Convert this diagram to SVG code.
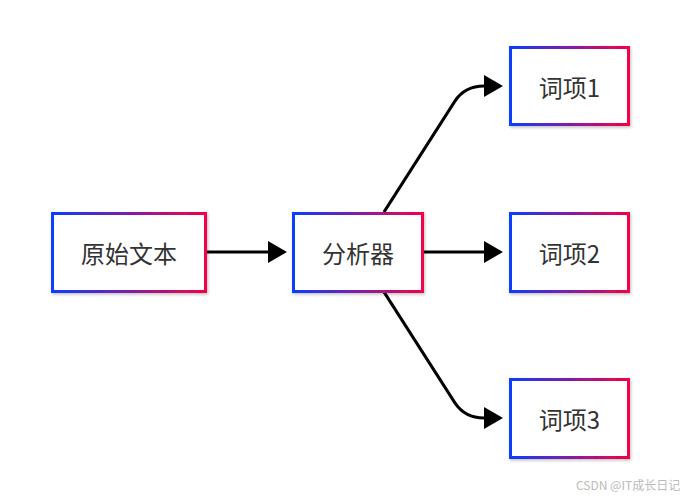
<svg xmlns="http://www.w3.org/2000/svg" width="688" height="500" viewBox="0 0 688 500">
<defs>
<linearGradient id="g" x1="0" y1="0" x2="1" y2="0">
<stop offset="0" stop-color="#0a3cff"/>
<stop offset="1" stop-color="#f5004a"/>
</linearGradient>
<filter id="sh" x="-10%" y="-10%" width="130%" height="130%">
<feDropShadow dx="1" dy="1.5" stdDeviation="1.5" flood-color="#000" flood-opacity="0.25"/>
</filter>
<marker id="arr" markerUnits="userSpaceOnUse" markerWidth="20" markerHeight="24" refX="0" refY="11" orient="auto" viewBox="0 0 20 24">
<path d="M0,0 L19,11 L0,22 z" fill="#000"/>
</marker>
<style>
.box{fill:#fff;stroke:url(#g);stroke-width:3;filter:url(#sh)}
.lbl{font-family:"Microsoft YaHei","Noto Sans CJK SC",sans-serif;font-size:24px;fill:#333;text-anchor:middle;dominant-baseline:central}
.edge{fill:none;stroke:#000;stroke-width:3.2;marker-end:url(#arr)}
.wm{font-family:"Noto Sans CJK SC",sans-serif;font-size:12px;fill:#bbb}
</style>
</defs>
<rect width="688" height="500" fill="#fff"/>
<g id="connectors">
<path class="edge" d="M207,252 H268"/>
<path class="edge" d="M424,252 H484"/>
<path class="edge" d="M384,212 L455,101 Q465,86 484,86"/>
<path class="edge" d="M384,292 L455,403 Q465,418 484,418"/>
</g>
<g id="n-text">
<rect class="box" x="52.5" y="213.5" width="153" height="78"/>
<text class="lbl" x="129" y="252">原始文本</text>
</g>
<g id="n-analyzer">
<rect class="box" x="293.5" y="213.5" width="129" height="78"/>
<text class="lbl" x="358" y="252">分析器</text>
</g>
<g id="n-term1">
<rect class="box" x="510.5" y="47.5" width="118" height="77"/>
<text class="lbl" x="569.5" y="86">词项1</text>
</g>
<g id="n-term2">
<rect class="box" x="510.5" y="213.5" width="118" height="78"/>
<text class="lbl" x="569.5" y="252">词项2</text>
</g>
<g id="n-term3">
<rect class="box" x="510.5" y="379.5" width="118" height="78"/>
<text class="lbl" x="569.5" y="418">词项3</text>
</g>
<text class="wm" x="576" y="490">CSDN @IT成长日记</text>
</svg>
